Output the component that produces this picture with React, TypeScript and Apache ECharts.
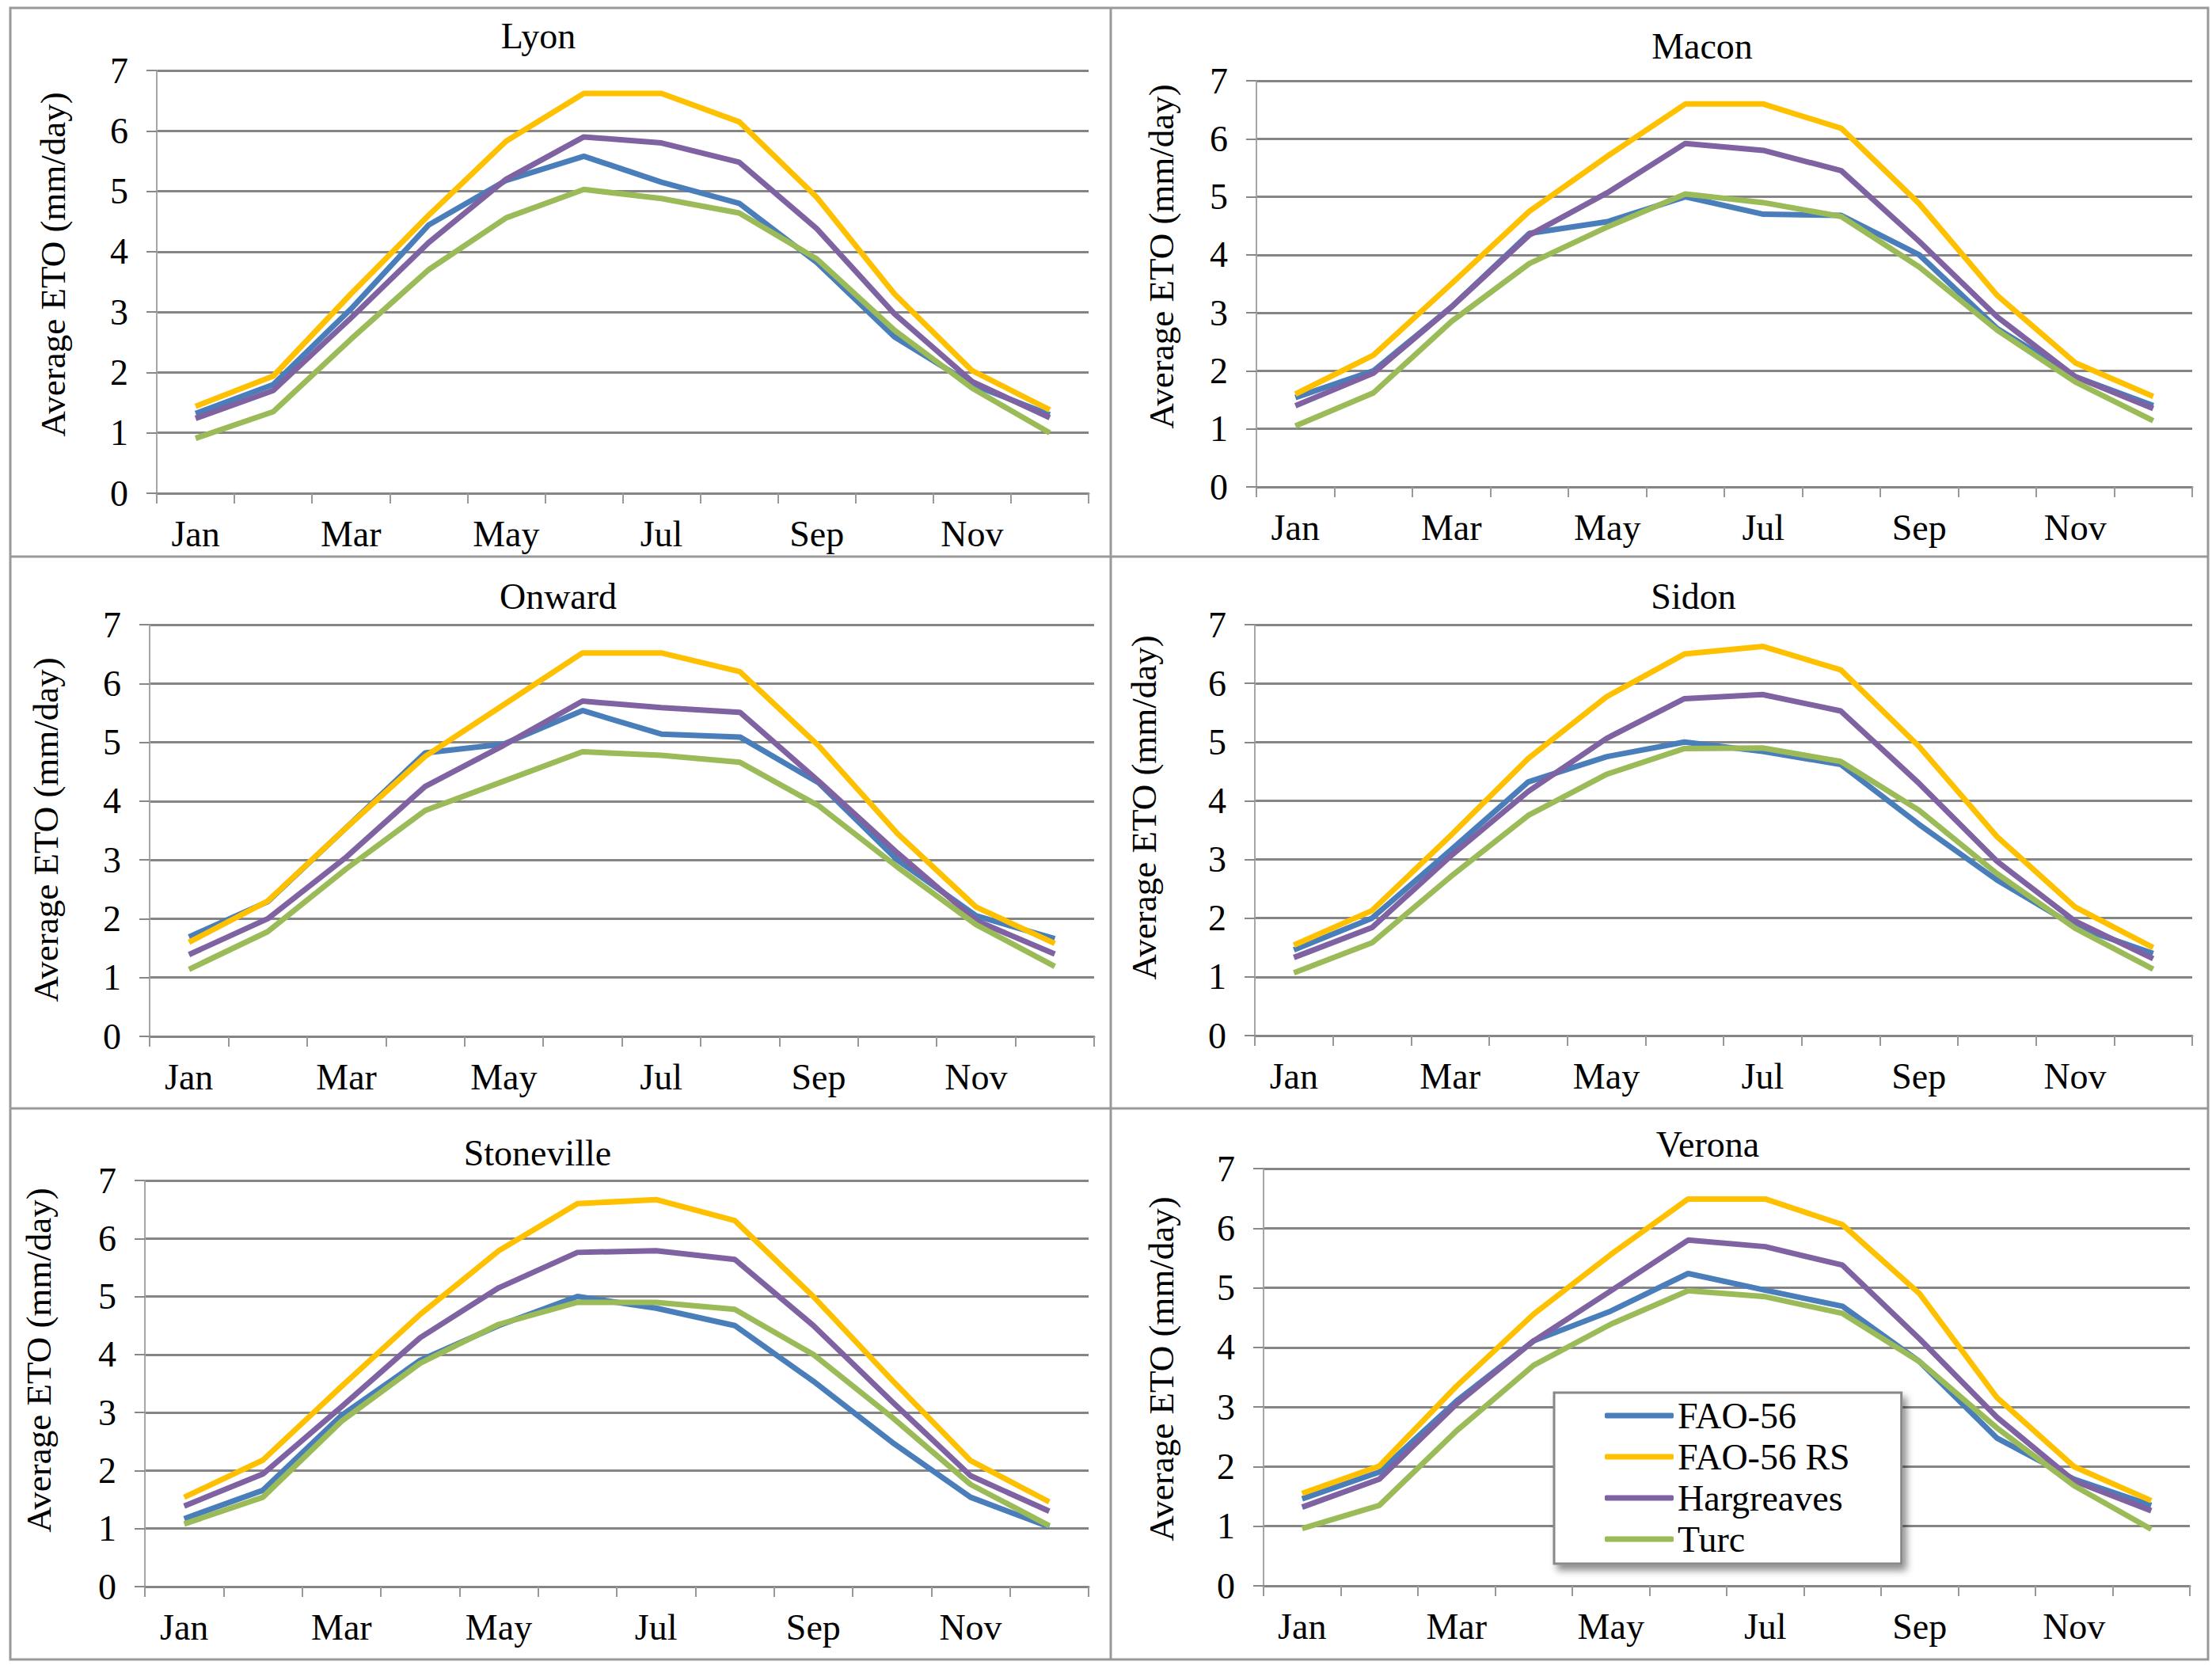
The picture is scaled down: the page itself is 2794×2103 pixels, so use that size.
import {useEffect, useRef} from 'react';
import * as echarts from 'echarts';

const months = ['Jan', 'Feb', 'Mar', 'Apr', 'May', 'Jun', 'Jul', 'Aug', 'Sep', 'Oct', 'Nov', 'Dec'];
const methods = ['FAO-56', 'FAO-56 RS', 'Hargreaves', 'Turc'];
const colors = ['#4A7EBB', '#FFC000', '#7F62A1', '#9BBB59'];
const yTicks = [0, 7, 1]; // min, max, step

// Lyon
const lyonFao = [1.32, 1.8, 3.05, 4.44, 5.18, 5.58, 5.15, 4.8, 3.82, 2.59, 1.8, 1.3];
const lyonRs = [1.44, 1.94, 3.3, 4.6, 5.83, 6.62, 6.62, 6.15, 4.9, 3.3, 2.03, 1.38];
const lyonHarg = [1.24, 1.7, 2.9, 4.15, 5.2, 5.9, 5.8, 5.48, 4.38, 2.97, 1.85, 1.25];
const lyonTurc = [0.91, 1.35, 2.55, 3.7, 4.56, 5.03, 4.88, 4.64, 3.88, 2.7, 1.74, 1.0];

// Macon
const maconFao = [1.54, 2.0, 3.1, 4.37, 4.57, 5.0, 4.7, 4.68, 4.0, 2.73, 1.9, 1.4];
const maconRs = [1.6, 2.27, 3.5, 4.75, 5.7, 6.6, 6.6, 6.18, 4.88, 3.3, 2.14, 1.56];
const maconHarg = [1.4, 1.96, 3.1, 4.34, 5.07, 5.92, 5.8, 5.45, 4.23, 2.93, 1.9, 1.35];
const maconTurc = [1.05, 1.62, 2.85, 3.85, 4.48, 5.05, 4.9, 4.66, 3.79, 2.7, 1.81, 1.14];

// Onward
const onwardFao = [1.69, 2.29, 3.55, 4.82, 4.97, 5.54, 5.14, 5.09, 4.31, 3.0, 2.05, 1.66];
const onwardRs = [1.6, 2.3, 3.55, 4.76, 5.64, 6.52, 6.52, 6.2, 4.94, 3.45, 2.2, 1.58];
const onwardHarg = [1.39, 2.0, 3.05, 4.25, 4.95, 5.7, 5.59, 5.51, 4.34, 3.12, 1.97, 1.4];
const onwardTurc = [1.14, 1.78, 2.85, 3.84, 4.34, 4.84, 4.78, 4.66, 3.92, 2.88, 1.9, 1.19];

// Sidon
const sidonFao = [1.46, 2.0, 3.15, 4.32, 4.75, 5.0, 4.84, 4.62, 3.6, 2.65, 1.86, 1.4];
const sidonRs = [1.54, 2.13, 3.4, 4.72, 5.77, 6.5, 6.63, 6.23, 4.93, 3.39, 2.19, 1.5];
const sidonHarg = [1.33, 1.84, 3.05, 4.16, 5.06, 5.74, 5.81, 5.53, 4.3, 2.97, 1.95, 1.31];
const sidonTurc = [1.07, 1.58, 2.7, 3.75, 4.45, 4.89, 4.9, 4.67, 3.84, 2.76, 1.83, 1.13];

// Stoneville
const stoneFao = [1.17, 1.66, 2.95, 3.9, 4.5, 5.0, 4.8, 4.5, 3.54, 2.49, 1.54, 1.03];
const stoneRs = [1.54, 2.18, 3.45, 4.69, 5.79, 6.6, 6.67, 6.31, 5.0, 3.56, 2.17, 1.46];
const stoneHarg = [1.39, 1.94, 3.1, 4.29, 5.15, 5.76, 5.79, 5.64, 4.5, 3.19, 1.91, 1.3];
const stoneTurc = [1.08, 1.54, 2.85, 3.85, 4.52, 4.9, 4.9, 4.78, 4.0, 2.92, 1.76, 1.05];

// Verona
const veronaFao = [1.46, 1.91, 3.1, 4.11, 4.61, 5.24, 4.96, 4.69, 3.76, 2.48, 1.79, 1.35];
const veronaRs = [1.55, 2.01, 3.35, 4.56, 5.56, 6.49, 6.49, 6.06, 4.9, 3.16, 2.0, 1.43];
const veronaHarg = [1.32, 1.79, 3.05, 4.11, 4.95, 5.8, 5.69, 5.38, 4.14, 2.83, 1.76, 1.26];
const veronaTurc = [0.96, 1.35, 2.6, 3.7, 4.39, 4.95, 4.85, 4.57, 3.76, 2.65, 1.68, 0.95];

const stations = [
    {name: 'Lyon', values: [lyonFao, lyonRs, lyonHarg, lyonTurc]},
    {name: 'Macon', values: [maconFao, maconRs, maconHarg, maconTurc]},
    {name: 'Onward', values: [onwardFao, onwardRs, onwardHarg, onwardTurc]},
    {name: 'Sidon', values: [sidonFao, sidonRs, sidonHarg, sidonTurc]},
    {name: 'Stoneville', values: [stoneFao, stoneRs, stoneHarg, stoneTurc]},
    {name: 'Verona', values: [veronaFao, veronaRs, veronaHarg, veronaTurc]},
];

// plot boxes [left, top, right, bottom], title centre, axis-name centre
const panels = [
    {box: [198, 89, 1375, 623], title: [680, 45], yName: [67, 334]},
    {box: [1587, 102, 2769, 615], title: [2150, 58], yName: [1467, 324]},
    {box: [189, 789, 1382, 1309], title: [705, 753], yName: [58, 1048]},
    {box: [1585, 789, 2769, 1308], title: [2139, 753], yName: [1445, 1020]},
    {box: [183, 1491, 1375, 2004], title: [679, 1456], yName: [49, 1718]},
    {box: [1596, 1476, 2766, 2003], title: [2157, 1445], yName: [1467, 1729]},
];

const FONT = 'Liberation Serif';

const App = () => {
    const chartRef = useRef(null);

    useEffect(() => {
        if (!chartRef.current) return;
        const chart = echarts.init(chartRef.current as any, null, {renderer: 'svg'});

        const grid = panels.map((p) => ({
            left: p.box[0],
            top: p.box[1],
            width: p.box[2] - p.box[0],
            height: p.box[3] - p.box[1],
            containLabel: false,
        }));

        const xAxis = panels.map((_, i) => ({
            type: 'category',
            gridIndex: i,
            data: months,
            boundaryGap: true,
            axisLine: {lineStyle: {color: '#858585', width: 3}},
            axisTick: {show: true, interval: 0, length: 13, lineStyle: {color: '#999', width: 2}},
            axisLabel: {interval: 1, margin: 28, fontSize: 46, fontFamily: FONT, color: '#000'},
            splitLine: {show: false},
        }));

        const yAxis = panels.map((_, i) => ({
            type: 'value',
            gridIndex: i,
            min: yTicks[0],
            max: yTicks[1],
            interval: yTicks[2],
            axisLine: {show: true, lineStyle: {color: '#a6a6a6', width: 2}},
            axisTick: {show: true, length: 13, lineStyle: {color: '#888', width: 2}},
            axisLabel: {margin: 36, fontSize: 46, fontFamily: FONT, color: '#000'},
            splitLine: {show: true, lineStyle: {color: '#858585', width: 3}},
        }));

        const series: any[] = [];
        stations.forEach((st, i) => {
            st.values.forEach((vals, k) => {
                series.push({
                    type: 'line',
                    name: methods[k],
                    xAxisIndex: i,
                    yAxisIndex: i,
                    data: vals,
                    symbol: 'none',
                    showSymbol: false,
                    lineStyle: {color: colors[k], width: 7},
                    itemStyle: {color: colors[k]},
                });
            });
        });

        const graphic: any[] = [];
        stations.forEach((st, i) => {
            const p = panels[i];
            graphic.push({
                type: 'text',
                x: p.title[0],
                y: p.title[1],
                style: {text: st.name, fontSize: 46, fontFamily: FONT, fill: '#000', align: 'center', verticalAlign: 'middle'},
            });
            graphic.push({
                type: 'text',
                x: p.yName[0],
                y: p.yName[1],
                rotation: Math.PI / 2,
                style: {
                    text: 'Average ETO (mm/day)',
                    fontSize: 45,
                    fontFamily: FONT,
                    fill: '#000',
                    align: 'center',
                    verticalAlign: 'middle',
                },
            });
        });
        // panel frames
        graphic.push({
            type: 'rect',
            shape: {x: 13, y: 10, width: 2776, height: 2086},
            style: {fill: 'none', stroke: '#999', lineWidth: 3},
        });
        graphic.push({type: 'line', shape: {x1: 1403, y1: 10, x2: 1403, y2: 2096}, style: {stroke: '#999', lineWidth: 3}});
        graphic.push({type: 'line', shape: {x1: 13, y1: 703, x2: 2789, y2: 703}, style: {stroke: '#999', lineWidth: 3}});
        graphic.push({type: 'line', shape: {x1: 13, y1: 1400, x2: 2789, y2: 1400}, style: {stroke: '#999', lineWidth: 3}});

        chart.setOption({
            animation: false,
            backgroundColor: '#fff',
            grid,
            xAxis,
            yAxis,
            series,
            graphic,
            legend: {
                data: methods,
                orient: 'vertical',
                left: 1963,
                top: 1759,
                padding: [6, 65, 8, 64],
                icon: 'roundRect',
                itemWidth: 87,
                itemHeight: 7,
                itemGap: 6,
                itemTextGap: 7,
                backgroundColor: '#fff',
                borderColor: '#888',
                borderWidth: 3,
                shadowColor: 'rgba(0,0,0,0.45)',
                shadowBlur: 10,
                shadowOffsetX: 5,
                shadowOffsetY: 7,
                textStyle: {fontSize: 46, lineHeight: 45, fontFamily: FONT, color: '#000'},
            },
        } as any);

        return () => {
            chart.dispose();
        };
    }, []);

    return <div ref={chartRef} style={{position: 'absolute', left: 0, top: 0, width: 2794, height: 2103}} />;
};

export default App;
